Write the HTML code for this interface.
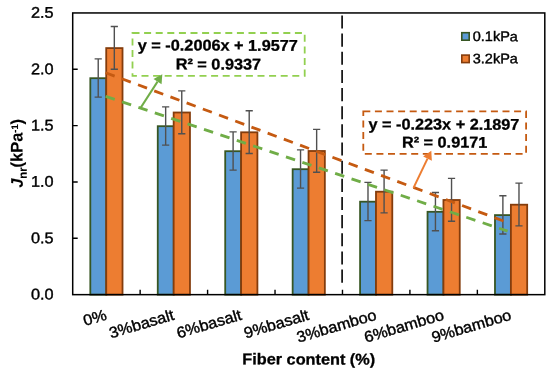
<!DOCTYPE html>
<html><head><meta charset="utf-8"><title>Jnr vs fiber content</title>
<style>html,body{margin:0;padding:0;background:#fff;}svg{display:block;}text{font-family:"Liberation Sans",sans-serif;fill:#000;stroke:#000;stroke-width:0.4px;}text[font-weight=bold]{stroke-width:0.3px;}</style>
</head><body>
<svg width="550" height="371" viewBox="0 0 550 371">
<rect x="0" y="0" width="550" height="371" fill="#ffffff"/>
<rect x="90.32" y="78.20" width="16.00" height="216.45" fill="#5b9bd5" stroke="#375623" stroke-width="1.8"/>
<rect x="106.22" y="48.10" width="16.30" height="246.55" fill="#ed7d31" stroke="#843c0c" stroke-width="1.8"/>
<rect x="157.76" y="126.20" width="16.00" height="168.45" fill="#5b9bd5" stroke="#375623" stroke-width="1.8"/>
<rect x="173.66" y="112.50" width="16.30" height="182.15" fill="#ed7d31" stroke="#843c0c" stroke-width="1.8"/>
<rect x="225.21" y="151.20" width="16.00" height="143.45" fill="#5b9bd5" stroke="#375623" stroke-width="1.8"/>
<rect x="241.11" y="132.30" width="16.30" height="162.35" fill="#ed7d31" stroke="#843c0c" stroke-width="1.8"/>
<rect x="292.65" y="169.20" width="16.00" height="125.45" fill="#5b9bd5" stroke="#375623" stroke-width="1.8"/>
<rect x="308.55" y="151.00" width="16.30" height="143.65" fill="#ed7d31" stroke="#843c0c" stroke-width="1.8"/>
<rect x="360.09" y="201.70" width="16.00" height="92.95" fill="#5b9bd5" stroke="#375623" stroke-width="1.8"/>
<rect x="375.99" y="191.70" width="16.30" height="102.95" fill="#ed7d31" stroke="#843c0c" stroke-width="1.8"/>
<rect x="427.54" y="211.80" width="16.00" height="82.85" fill="#5b9bd5" stroke="#375623" stroke-width="1.8"/>
<rect x="443.44" y="200.00" width="16.30" height="94.65" fill="#ed7d31" stroke="#843c0c" stroke-width="1.8"/>
<rect x="494.98" y="215.10" width="16.00" height="79.55" fill="#5b9bd5" stroke="#375623" stroke-width="1.8"/>
<rect x="510.88" y="204.70" width="16.30" height="89.95" fill="#ed7d31" stroke="#843c0c" stroke-width="1.8"/>
<path d="M98.22 58.90V97.10M94.62 58.90H101.82M94.62 97.10H101.82" stroke="#505050" stroke-width="1.4" fill="none"/>
<path d="M114.32 26.50V69.30M110.72 26.50H117.92M110.72 69.30H117.92" stroke="#505050" stroke-width="1.4" fill="none"/>
<path d="M165.66 106.90V145.10M162.06 106.90H169.26M162.06 145.10H169.26" stroke="#505050" stroke-width="1.4" fill="none"/>
<path d="M181.76 90.90V133.70M178.16 90.90H185.36M178.16 133.70H185.36" stroke="#505050" stroke-width="1.4" fill="none"/>
<path d="M233.11 131.90V170.10M229.51 131.90H236.71M229.51 170.10H236.71" stroke="#505050" stroke-width="1.4" fill="none"/>
<path d="M249.21 110.70V153.50M245.61 110.70H252.81M245.61 153.50H252.81" stroke="#505050" stroke-width="1.4" fill="none"/>
<path d="M300.55 149.90V188.10M296.95 149.90H304.15M296.95 188.10H304.15" stroke="#505050" stroke-width="1.4" fill="none"/>
<path d="M316.65 129.40V172.20M313.05 129.40H320.25M313.05 172.20H320.25" stroke="#505050" stroke-width="1.4" fill="none"/>
<path d="M367.99 182.40V220.60M364.39 182.40H371.59M364.39 220.60H371.59" stroke="#505050" stroke-width="1.4" fill="none"/>
<path d="M384.09 170.10V212.90M380.49 170.10H387.69M380.49 212.90H387.69" stroke="#505050" stroke-width="1.4" fill="none"/>
<path d="M435.44 192.50V230.70M431.84 192.50H439.04M431.84 230.70H439.04" stroke="#505050" stroke-width="1.4" fill="none"/>
<path d="M451.54 178.40V221.20M447.94 178.40H455.14M447.94 221.20H455.14" stroke="#505050" stroke-width="1.4" fill="none"/>
<path d="M502.88 195.80V234.00M499.28 195.80H506.48M499.28 234.00H506.48" stroke="#505050" stroke-width="1.4" fill="none"/>
<path d="M518.98 183.10V225.90M515.38 183.10H522.58M515.38 225.90H522.58" stroke="#505050" stroke-width="1.4" fill="none"/>
<line x1="105.62" y1="96.39" x2="507.58" y2="231.11" stroke="#70ad47" stroke-width="2.8" stroke-dasharray="9.6 7.69"/>
<line x1="105.62" y1="72.74" x2="507.58" y2="222.50" stroke="#c55a11" stroke-width="2.8" stroke-dasharray="9.6 7.69"/>
<line x1="342.10" y1="15.45" x2="342.10" y2="283" stroke="#000" stroke-width="1.6" stroke-dasharray="13.1 5.05"/>
<rect x="72.70" y="12.95" width="472.10" height="281.70" fill="none" stroke="#000" stroke-width="1.5"/>
<path d="M140.14 294.65v-5M207.59 294.65v-5M275.03 294.65v-5M342.47 294.65v-5M409.91 294.65v-5M477.36 294.65v-5M72.70 238.31h5M72.70 181.97h5M72.70 125.63h5M72.70 69.29h5" stroke="#000" stroke-width="1.4" fill="none"/>
<text transform="translate(53.6 299.55) rotate(0.05) scale(1.05 1)" font-size="15.5" text-anchor="end">0.0</text>
<text transform="translate(53.6 243.21) rotate(0.05) scale(1.05 1)" font-size="15.5" text-anchor="end">0.5</text>
<text transform="translate(53.6 186.87) rotate(0.05) scale(1.05 1)" font-size="15.5" text-anchor="end">1.0</text>
<text transform="translate(53.6 130.53) rotate(0.05) scale(1.05 1)" font-size="15.5" text-anchor="end">1.5</text>
<text transform="translate(53.6 74.19) rotate(0.05) scale(1.05 1)" font-size="15.5" text-anchor="end">2.0</text>
<text transform="translate(53.6 17.85) rotate(0.05) scale(1.05 1)" font-size="15.5" text-anchor="end">2.5</text>
<text transform="translate(107.62 319.4) rotate(-16.5) scale(1.05 1)" font-size="15.5" text-anchor="end">0%</text>
<text transform="translate(175.06 319.4) rotate(-16.5) scale(1.05 1)" font-size="15.5" text-anchor="end">3%basalt</text>
<text transform="translate(242.51 319.4) rotate(-16.5) scale(1.05 1)" font-size="15.5" text-anchor="end">6%basalt</text>
<text transform="translate(309.95 319.4) rotate(-16.5) scale(1.05 1)" font-size="15.5" text-anchor="end">9%basalt</text>
<text transform="translate(377.39 319.4) rotate(-16.5) scale(1.05 1)" font-size="15.5" text-anchor="end">3%bamboo</text>
<text transform="translate(444.84 319.4) rotate(-16.5) scale(1.05 1)" font-size="15.5" text-anchor="end">6%bamboo</text>
<text transform="translate(512.28 319.4) rotate(-16.5) scale(1.05 1)" font-size="15.5" text-anchor="end">9%bamboo</text>
<text transform="translate(308.75 364.4) rotate(0.05) scale(1.05 1)" font-size="15.5" font-weight="bold" text-anchor="middle">Fiber content (%)</text>
<text transform="translate(22.6 153.40) rotate(-90.05) scale(0.98 1)" font-size="16.8" font-weight="bold" style="stroke-width:0.1px" text-anchor="middle"><tspan font-style="italic">J</tspan><tspan font-size="11.5" dy="4.2">nr</tspan><tspan dy="-4.2">(kPa</tspan><tspan font-size="9.5" dy="-4.6">-1</tspan><tspan dy="4.6">)</tspan></text>
<rect x="461.8" y="32.7" width="7.4" height="7.5" fill="#5b9bd5" stroke="#375623" stroke-width="1.6"/>
<rect x="461.8" y="55.1" width="7.4" height="7.5" fill="#ed7d31" stroke="#843c0c" stroke-width="1.6"/>
<text transform="translate(472.8 41.1) rotate(0.05) scale(1.05 1)" font-size="13.8">0.1kPa</text>
<text transform="translate(472.8 63.3) rotate(0.05) scale(1.05 1)" font-size="13.8">3.2kPa</text>
<rect x="132.5" y="33.0" width="172.2" height="42.8" fill="#fff" stroke="#92d050" stroke-width="1.8" stroke-dasharray="7 4.6"/>
<text transform="translate(217.8 50.6) rotate(0.05) scale(1.05 1)" font-size="15.5" font-weight="bold" text-anchor="middle">y = -0.2006x + 1.9577</text>
<text transform="translate(218.4 69.4) rotate(0.05) scale(1.05 1)" font-size="15.5" font-weight="bold" text-anchor="middle">R² = 0.9337</text>
<rect x="363.3" y="111.3" width="162.8" height="42.5" fill="#fff" stroke="#c55a11" stroke-width="1.8" stroke-dasharray="7 4.6"/>
<text transform="translate(443.9 129.6) rotate(0.05) scale(1.05 1)" font-size="15.5" font-weight="bold" text-anchor="middle">y = -0.223x + 2.1897</text>
<text transform="translate(444.6 147.6) rotate(0.05) scale(1.05 1)" font-size="15.5" font-weight="bold" text-anchor="middle">R² = 0.9171</text>
<line x1="140.60" y1="107.90" x2="157.54" y2="81.60" stroke="#70ad47" stroke-width="2.0"/>
<polygon points="162.30,74.20 161.57,84.20 153.50,79.00" fill="#70ad47"/>
<line x1="413.50" y1="187.90" x2="427.50" y2="158.64" stroke="#ed7d31" stroke-width="2.0"/>
<polygon points="431.30,150.70 431.83,160.71 423.17,156.57" fill="#ed7d31"/>
</svg></body></html>
